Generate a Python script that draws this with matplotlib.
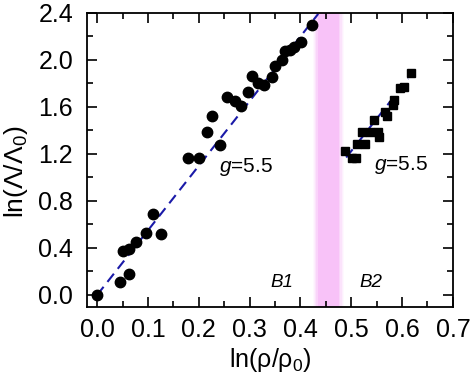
"""
ln(Lambda/Lambda0) vs ln(rho/rho0) with two branches B1 and B2
"""
import matplotlib.pyplot as plt
import numpy as np
from matplotlib.ticker import MultipleLocator

plt.rcParams['font.family'] = ['Liberation Sans', 'DejaVu Sans']
plt.rcParams['mathtext.fontset'] = 'custom'
plt.rcParams['mathtext.rm'] = 'Liberation Sans'
plt.rcParams['mathtext.it'] = 'Liberation Sans:italic'

# branch B1 (circles)
x_b1 = [0.0, 0.045, 0.051, 0.0625, 0.0625, 0.076, 0.096, 0.110, 0.126,
        0.178, 0.201, 0.216, 0.226, 0.242, 0.255, 0.271, 0.283, 0.296,
        0.304, 0.317, 0.329, 0.344, 0.350, 0.363, 0.369, 0.379, 0.388,
        0.402, 0.423]
y_b1 = [0.0, 0.108, 0.374, 0.176, 0.389, 0.454, 0.525, 0.689, 0.516,
        1.163, 1.168, 1.385, 1.526, 1.277, 1.688, 1.654, 1.609, 1.728,
        1.861, 1.800, 1.790, 1.853, 1.949, 1.997, 2.077, 2.083, 2.108,
        2.153, 2.300]

# branch B2 (squares)
x_b2 = [0.488, 0.501, 0.510, 0.512, 0.527, 0.522, 0.537, 0.545, 0.553,
        0.554, 0.567, 0.571, 0.582, 0.584, 0.595, 0.603, 0.618]
y_b2 = [1.228, 1.163, 1.163, 1.285, 1.285, 1.390, 1.390, 1.489, 1.390,
        1.342, 1.560, 1.523, 1.617, 1.660, 1.759, 1.773, 1.892]

# fits with slope g
g = 5.5
fit1_x = np.array([0.0, 0.435])
fit2_x = np.array([0.49, 0.612])
fit2_y0 = 1.17

# transition band
band = (0.434, 0.476)
pink = '#f8c2f8'

fig = plt.figure(figsize=(4.74, 3.82), dpi=100)
ax = fig.add_axes([0.1835, 0.197, 0.772, 0.769])

# soft-edged pink band
ax.axvspan(band[0], band[1], color=pink, lw=0, zorder=0)
for i, a in enumerate([0.7, 0.45, 0.25, 0.1]):
    w = 0.0025 * (i + 1)
    ax.axvspan(band[0] - w, band[0] - w + 0.0025, color=pink, alpha=a, lw=0, zorder=0)
    ax.axvspan(band[1] + w - 0.0025, band[1] + w, color=pink, alpha=a, lw=0, zorder=0)

ax.plot(fit1_x, g * fit1_x, ls=(0, (5, 3)), color='#1a1aa8', lw=1.5, zorder=2)
ax.plot(fit2_x, fit2_y0 + g * (fit2_x - fit2_x[0]), ls=(0, (5, 3)),
        color='#1a1aa8', lw=1.5, zorder=2)

ax.plot(x_b1, y_b1, 'o', color='black', ms=7.5, zorder=3)
ax.plot(x_b2, y_b2, 's', color='black', ms=6, zorder=3)

ax.text(0.240, 1.05, '$g$=5.5', fontsize=15)
ax.text(0.545, 1.06, '$g$=5.5', fontsize=15)
ax.text(0.340, 0.07, 'B1', fontsize=13.5, style='italic')
ax.text(0.516, 0.07, 'B2', fontsize=13.5, style='italic')

ax.set_xlim(-0.02, 0.7)
ax.set_ylim(-0.1, 2.4)
ax.xaxis.set_major_locator(MultipleLocator(0.1))
ax.xaxis.set_minor_locator(MultipleLocator(0.05))
ax.yaxis.set_major_locator(MultipleLocator(0.4))
ax.yaxis.set_minor_locator(MultipleLocator(0.2))
ax.xaxis.set_major_formatter(lambda v, p: f'{v:.1f}')
ax.yaxis.set_major_formatter(lambda v, p: f'{v:.1f}')

ax.tick_params(which='both', direction='in', top=True, right=True, width=1.2)
ax.tick_params(which='major', length=7, labelsize=18)
ax.tick_params(axis='x', which='major', pad=8)
ax.tick_params(axis='y', which='major', pad=10)
ax.tick_params(which='minor', length=4)
for s in ax.spines.values():
    s.set_linewidth(1.3)

ax.set_xlabel('ln(ρ/ρ$_0$)', fontsize=18, labelpad=3)
ax.set_ylabel('ln(Λ/Λ$_0$)', fontsize=19)
ax.yaxis.set_label_coords(-0.155, 0.46)

fig.savefig('out.png', dpi=100)
